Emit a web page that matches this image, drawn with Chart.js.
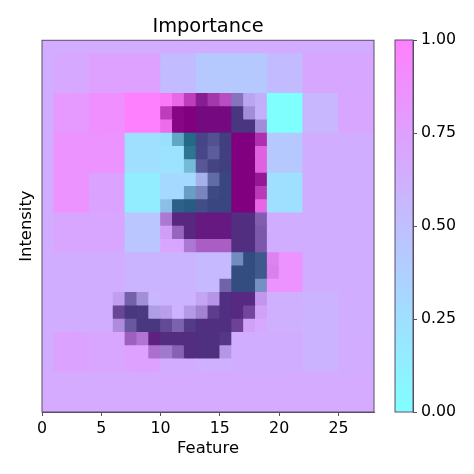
<!DOCTYPE html>
<html><head><meta charset="utf-8">
<script src="https://cdn.jsdelivr.net/npm/chart.js@4"></script>
<style>html,body{margin:0;padding:0;background:#fff}canvas{position:absolute;top:0}</style>
</head><body>
<canvas id="main" width="474" height="474" style="left:0"></canvas>
<canvas id="bar" width="100" height="474" style="left:374px"></canvas>
<script>
const titleText = "Importance", xLabel = "Feature", yLabel = "Intensity";
const xTicks = [0,5,10,15,20,25];
const barTicks = [0,0.25,0.5,0.75,1];
// digit intensity in percent, rows top to bottom
const digit = [
[0,0,0,0,0,0,0,0,0,0,0,0,0,0,0,0,0,0,0,0,0,0,0,0,0,0,0,0],
[0,0,0,0,0,0,0,0,0,0,0,0,0,0,0,0,0,0,0,0,0,0,0,0,0,0,0,0],
[0,0,0,0,0,0,0,0,0,0,0,0,0,0,0,0,0,0,0,0,0,0,0,0,0,0,0,0],
[0,0,0,0,0,0,0,0,0,0,0,0,0,0,0,0,0,0,0,0,0,0,0,0,0,0,0,0],
[0,0,0,0,0,0,0,0,0,0,5,18,52,85,64,48,52,12,5,0,0,0,0,0,0,0,0,0],
[0,0,0,0,0,0,0,0,0,0,52,95,100,100,100,100,100,31,4,0,0,0,0,0,0,0,0,0],
[0,0,0,0,0,0,0,0,0,0,15,95,100,100,100,100,100,100,31,0,0,0,0,0,0,0,0,0],
[0,0,0,0,0,0,0,0,0,0,2,47,95,95,86,100,100,100,63,0,0,0,0,0,0,0,0,0],
[0,0,0,0,0,0,0,0,0,0,0,0,86,94,78,100,100,100,24,0,0,0,0,0,0,0,0,0],
[0,0,0,0,0,0,0,0,0,0,0,0,31,82,97,100,100,100,24,0,0,0,0,0,0,0,0,0],
[0,0,0,0,0,0,0,0,0,0,0,0,0,16,70,100,100,100,82,0,0,0,0,0,0,0,0,0],
[0,0,0,0,0,0,0,0,0,0,0,0,47,51,97,100,100,100,55,0,0,0,0,0,0,0,0,0],
[0,0,0,0,0,0,0,0,0,0,20,94,98,94,100,100,100,100,20,0,0,0,0,0,0,0,0,0],
[0,0,0,0,0,0,0,0,0,0,35,100,100,100,100,100,100,100,63,0,0,0,0,0,0,0,0,0],
[0,0,0,0,0,0,0,0,0,0,6,51,100,100,100,100,100,100,67,0,0,0,0,0,0,0,0,0],
[0,0,0,0,0,0,0,0,0,0,0,0,35,47,47,47,100,100,67,0,0,0,0,0,0,0,0,0],
[0,0,0,0,0,0,0,0,0,0,0,0,0,0,0,0,50,100,90,12,0,0,0,0,0,0,0,0],
[0,0,0,0,0,0,0,0,0,0,0,0,0,0,0,0,100,100,90,15,0,0,0,0,0,0,0,0],
[0,0,0,0,0,0,0,0,0,0,0,0,0,0,0,67,100,100,47,0,0,0,0,0,0,0,0,0],
[0,0,0,0,0,0,12,67,31,0,0,0,0,8,20,100,100,100,15,0,0,0,0,0,0,0,0,0],
[0,0,0,0,0,0,82,100,98,20,16,0,20,35,90,100,100,78,6,0,0,0,0,0,0,0,0,0],
[0,0,0,0,0,0,27,75,100,100,82,63,94,100,100,100,82,6,0,0,0,0,0,0,0,0,0,0],
[0,0,0,0,0,0,0,51,35,100,100,100,100,100,100,95,0,0,0,0,0,0,0,0,0,0,0,0],
[0,0,0,0,0,0,0,0,0,39,39,59,100,100,100,20,0,0,0,0,0,0,0,0,0,0,0,0],
[0,0,0,0,0,0,0,0,0,0,0,0,0,0,0,0,0,0,0,0,0,0,0,0,0,0,0,0],
[0,0,0,0,0,0,0,0,0,0,0,0,0,0,0,0,0,0,0,0,0,0,0,0,0,0,0,0],
[0,0,0,0,0,0,0,0,0,0,0,0,0,0,0,0,0,0,0,0,0,0,0,0,0,0,0,0],
[0,0,0,0,0,0,0,0,0,0,0,0,0,0,0,0,0,0,0,0,0,0,0,0,0,0,0,0]
];
// importance per patch: first row/column is one cell wide, the rest three
const importance = [
[.65,.65,.65,.65,.65,.65,.65,.65,.65,.65],
[.64,.68,.74,.74,.53,.42,.42,.53,.69,.69],
[.64,.80,.88,1,1,.92,.58,0,.57,.70],
[.64,.85,.85,.25,.22,.5,1,.42,.64,.64],
[.64,.85,.72,.14,.3,.45,1,.25,.64,.64],
[.64,.7,.7,.45,.7,.8,.64,.64,.64,.64],
[.64,.64,.64,.59,.59,.55,.4,.85,.64,.64],
[.64,.64,.64,.57,.6,.63,.68,.62,.6,.64],
[.64,.72,.7,.74,.65,.62,.64,.64,.6,.65],
[.66,.66,.66,.66,.66,.66,.66,.66,.66,.66]
];
const patch = i => i === 0 ? 0 : Math.floor((i - 1) / 3) + 1;
function cellColor(r, c) {
  const g = 255 * (1 - digit[r][c] / 100), v = importance[patch(r)][patch(c)];
  return `rgb(${Math.round(.5*g + 127.5*v)},${Math.round(.5*g + 127.5*(1-v))},${Math.round(.5*g + 127.5)})`;
}
const cells = [], colors = [];
digit.forEach((row, r) => row.forEach((_, c) => {
  cells.push({x: c + .5, y: [r, r + 1]});
  colors.push(cellColor(r, c));
}));
const FONT = "'DejaVu Sans'", INK = "#000", SPINE = "#5b4c68";
const frame = {
  id: 'frame',
  afterDraw(chart) {
    const {ctx, chartArea: a} = chart;
    ctx.save(); ctx.strokeStyle = SPINE; ctx.lineWidth = 1;
    ctx.strokeRect(a.left, a.top, a.right - a.left, a.bottom - a.top);
    ctx.restore();
  }
};
new Chart(document.getElementById('main'), {
  type: 'bar',
  data: {datasets: [{data: cells, backgroundColor: colors, borderWidth: 0, barPercentage: 1, categoryPercentage: 1, inflateAmount: 0.4}]},
  plugins: [frame],
  options: {
    responsive: false, animation: false,
    layout: {padding: {left: 0, right: 100, top: 0, bottom: 0}},
    plugins: {
      legend: {display: false}, tooltip: {enabled: false},
      title: {display: true, text: titleText, color: INK, font: {family: FONT, size: 19.4, weight: 'normal'}, padding: {top: 15, bottom: 2}, fullSize: false}
    },
    scales: {
      x: {
        type: 'linear', min: 0, max: 28, offset: false,
        grid: {offset: false, drawOnChartArea: false, drawTicks: true, tickLength: 4, color: SPINE},
        border: {color: SPINE},
        ticks: {color: INK, font: {family: FONT, size: 15.8}, padding: 3, maxRotation: 0, includeBounds: false,
          callback: v => xTicks.includes(v) ? String(v) : '', stepSize: 5},
        title: {display: true, text: xLabel, color: INK, font: {family: FONT, size: 16.4}, padding: {top: 1, bottom: 15}},
        afterFit: s => { s.height = 62; }
      },
      y: {
        min: 0, max: 28, reverse: true,
        grid: {display: false},
        border: {color: SPINE},
        ticks: {display: false},
        title: {display: true, text: yLabel, color: INK, font: {family: FONT, size: 16.4}, padding: {top: 17, bottom: 0}},
        afterFit: s => { s.width = 42; }
      }
    }
  }
});
new Chart(document.getElementById('bar'), {
  type: 'bar',
  data: {labels: ['scale'], datasets: [{
    data: [[barTicks[0], barTicks[barTicks.length - 1]]],
    barPercentage: 1, categoryPercentage: 1, borderWidth: 0,
    backgroundColor(ctx) {
      const a = ctx.chart.chartArea;
      if (!a) return '#fff';
      const g = ctx.chart.ctx.createLinearGradient(0, a.bottom, 0, a.top);
      g.addColorStop(0, 'rgb(128,255,255)');
      g.addColorStop(1, 'rgb(255,128,255)');
      return g;
    }
  }]},
  plugins: [frame],
  options: {
    responsive: false, animation: false,
    layout: {padding: {left: 21, right: 0, top: 40, bottom: 62}},
    plugins: {legend: {display: false}, tooltip: {enabled: false}},
    scales: {
      x: {display: false},
      y: {
        position: 'right', min: 0, max: 1,
        grid: {drawOnChartArea: false, tickLength: 4, color: SPINE},
        border: {color: SPINE},
        ticks: {color: INK, font: {family: FONT, size: 15.8}, padding: 4, stepSize: .25, callback: v => v.toFixed(2)},
        afterFit: s => { s.width = 61; }
      }
    }
  }
});
</script>
</body></html>
